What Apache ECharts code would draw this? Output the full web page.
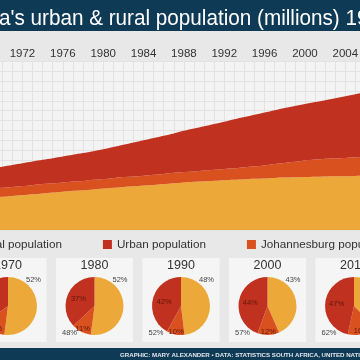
<!DOCTYPE html>
<html><head><meta charset="utf-8">
<script src="https://cdn.jsdelivr.net/npm/echarts@6/dist/echarts.min.js"></script>
<style>html,body{margin:0;padding:0;background:#e8e8e8}#c{width:360px;height:360px}</style>
</head><body><div id="c"></div>
<script>
// ---- data (millions) ----
const years = ['1969','1970','1971','1972','1973','1974','1975','1976','1977','1978',
  '1979','1980','1981','1982','1983','1984','1985','1986','1987','1988',
  '1989','1990','1991','1992','1993','1994','1995','1996','1997','1998',
  '1999','2000','2001','2002','2003','2004','2005','2006'];
const tickYears = ['1972','1976','1980','1984','1988','1992','1996','2000','2004'];
const rural = [11.5,11.8,12.1,12.4,12.7,13.0,13.3,13.6,13.9,14.1,
  14.4,14.7,15.0,15.3,15.5,15.8,16.0,16.3,16.6,16.9,
  17.1,17.3,17.5,17.7,17.8,18.0,18.2,18.3,18.5,18.6,
  18.7,18.8,18.9,19.0,19.1,19.1,19.2,19.3];
const johannesburg = [3.2,3.2,3.2,3.2,3.2,3.3,3.3,3.3,3.3,3.3,
  3.4,3.4,3.4,3.5,3.5,3.5,3.6,3.6,3.7,3.7,
  3.7,3.8,3.9,4.0,4.1,4.3,4.4,4.6,4.9,5.2,
  5.5,5.9,6.1,6.3,6.4,6.5,6.6,6.7];
const urban = [7.2,7.5,7.8,8.1,8.4,8.6,8.9,9.2,9.5,9.9,
  10.2,10.6,11.1,11.5,12.1,12.6,13.1,13.6,14.0,14.6,
  15.2,15.7,16.2,16.7,17.4,17.8,18.3,18.8,19.1,19.5,
  19.8,20.0,20.4,20.8,21.3,21.9,22.4,22.9];
const seriesNames = ['Rural population','Urban population','Johannesburg population'];
// pies (percent)
const pieYears = ['1970','1980','1990','2000','2010'];
const pieRural = [52,52,48,43,38];
const pieJhb = [13,11,10,12,16];
const pieUrban = [35,37,42,44,47];
const pieUrbanTotal = [48,48,52,57,62];
const titleText = "South Africa's urban & rural population (millions) 1970-2010";
const creditText = 'GRAPHIC: MARY ALEXANDER \u2022 DATA: STATISTICS SOUTH AFRICA, UNITED NATIONS';

// ---- style ----
const NAVY = '#0f3a56', RED = '#c1311f', ORANGE = '#da5120', YELLOW = '#eca93a';
const FF = '"Liberation Sans", Arial, Helvetica, sans-serif';
function measure(txt, font){ const c=document.createElement('canvas').getContext('2d'); c.font=font; return c.measureText(txt).width; }

const titleFont = '22px ' + FF;
const titleScale = 0.94;
const lead = titleText.slice(0, titleText.indexOf("a's urban"));
const titleX = -measure(lead, titleFont) * titleScale - 1;

const creditFont = 'bold 5px ' + FF;
const creditVisible = creditText.slice(0, creditText.indexOf('NATIONS') + 4);
const creditScale = 240 / measure(creditVisible, creditFont);

const pieX0 = 8, pieDX = 86.5, pieCY = 306, pieR = 29;

const graphic = [
  {type:'rect', z:-10, silent:true, shape:{x:0,y:0,width:360,height:31}, style:{fill:NAVY}},
  {type:'rect', z:-10, silent:true, shape:{x:0,y:348,width:360,height:12}, style:{fill:NAVY}},
  {type:'text', z:100, silent:true, x:titleX, y:18.5, scaleX:titleScale, scaleY:1,
    style:{text:titleText, font:titleFont, fill:'#ffffff', textAlign:'left', textVerticalAlign:'middle'}},
  {type:'text', z:100, silent:true, x:120, y:355.5, scaleX:creditScale, scaleY:1,
    style:{text:creditText, font:creditFont, fill:'#dfe6ec', textAlign:'left', textVerticalAlign:'middle'}}
];
pieYears.forEach((yr,i)=>{
  const cx = pieX0 + i*pieDX;
  graphic.push({type:'rect', z:-10, silent:true, shape:{x:cx-38.5,y:258,width:77,height:84}, style:{fill:'#f5f5f5'}});
  graphic.push({type:'text', z:100, silent:true, x:cx, y:266,
    style:{text:yr, font:'12.5px '+FF, fill:'#333', textAlign:'center', textVerticalAlign:'middle'}});
  graphic.push({type:'text', z:100, silent:true, x:cx+25.5, y:pieCY-26.5,
    style:{text:pieRural[i]+'%', font:'7.5px '+FF, fill:'#444', textAlign:'center', textVerticalAlign:'middle'}});
  graphic.push({type:'text', z:100, silent:true, x:cx-25, y:pieCY+26.5,
    style:{text:pieUrbanTotal[i]+'%', font:'7.5px '+FF, fill:'#444', textAlign:'center', textVerticalAlign:'middle'}});
});

function area(name, arr, color){
  return {type:'line', name, stack:'pop', data: arr,
    symbol:'none', smooth:0.3, silent:true, lineStyle:{width:0, color}, itemStyle:{color},
    areaStyle:{color, opacity:1}, z:2};
}
const series = [
  area(seriesNames[0], rural, YELLOW),
  area(seriesNames[2], johannesburg, ORANGE),
  area(seriesNames[1], urban, RED)
];
const innerLabel = {position:'inside', fontSize:7.5, color:'#5e160b', fontFamily:FF, formatter:p=>p.value+'%'};
pieYears.forEach((yr,i)=>{
  const cx = pieX0 + i*pieDX;
  series.push({type:'pie', center:[cx,pieCY], radius:[0,pieR], startAngle:90, clockwise:true, silent:true,
    z:5, avoidLabelOverlap:false, emphasis:{disabled:true}, labelLine:{show:false}, label:innerLabel,
    data:[
      {name:'r'+yr, value:pieRural[i], itemStyle:{color:YELLOW}, label:{show:false}},
      {name:'j'+yr, value:pieJhb[i], itemStyle:{color:ORANGE}, label:{show:false}},
      {name:'u'+yr, value:pieUrban[i], itemStyle:{color:RED}, label:{show:true}}
    ]});
  // transparent overlay just to place the Johannesburg share label further out
  series.push({type:'pie', center:[cx,pieCY], radius:[0,pieR*1.6], startAngle:90, clockwise:true, silent:true,
    z:6, avoidLabelOverlap:false, emphasis:{disabled:true}, labelLine:{show:false}, label:innerLabel,
    data:[
      {name:'r'+yr, value:pieRural[i], itemStyle:{color:'rgba(0,0,0,0)'}, label:{show:false}},
      {name:'j'+yr, value:pieJhb[i], itemStyle:{color:'rgba(0,0,0,0)'}, label:{show:true}},
      {name:'u'+yr, value:pieUrban[i], itemStyle:{color:'rgba(0,0,0,0)'}, label:{show:false}}
    ]});
});

const chart = echarts.init(document.getElementById('c'), null, {renderer:'canvas', width:360, height:360});
chart.setOption({
  animation:false,
  backgroundColor:'#e8e8e8',
  graphic,
  legend:{data:seriesNames, left:-37.2, top:238, width:700, padding:0, itemGap:41, itemWidth:9, itemHeight:9, icon:'rect',
    selectedMode:false, textStyle:{fontSize:11.7, color:'#333', fontFamily:FF, lineHeight:13}},
  grid:{left:-7.8, width:373.3, top:61, height:169, show:true, backgroundColor:'#f3f3f3', borderWidth:0,
    outerBoundsMode:'none', containLabel:false},
  xAxis:{type:'category', position:'top', data:years, boundaryGap:false,
    axisLine:{show:false}, axisTick:{show:false},
    axisLabel:{margin:1.5, fontSize:11.5, color:'#333', fontFamily:FF,
      interval:(idx, val)=>tickYears.includes(val)},
    splitLine:{show:true, interval:0, lineStyle:{color:'#e2e2e2', width:1}}},
  yAxis:{type:'value', min:0, max:60, interval:60/17, axisLine:{show:false}, axisTick:{show:false},
    axisLabel:{show:false}, splitLine:{show:true, lineStyle:{color:'#e2e2e2', width:1}}},
  series
});
</script></body></html>
